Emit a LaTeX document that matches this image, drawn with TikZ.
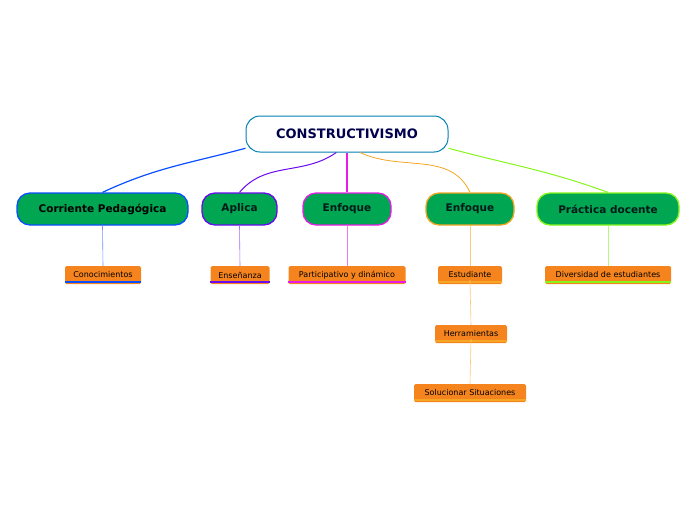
\documentclass[tikz,border=0pt]{standalone}
\usepackage{fontspec}
\setmainfont{DejaVu Sans}
\definecolor{colb}{HTML}{0A4FFF}
\definecolor{colp}{HTML}{6A0AF0}
\definecolor{colm}{HTML}{E81CE8}
\definecolor{colo}{HTML}{F5A623}
\definecolor{colg}{HTML}{85F51A}
\definecolor{gfill}{HTML}{00A651}
\definecolor{ofill}{HTML}{F5841F}
\begin{document}
\begin{tikzpicture}[x=1pt,y=-1pt,
 rootn/.style={draw=colb!40!cyan!70!black,line width=1pt,rounded corners=14pt,fill=white,minimum width=202pt,minimum height=36pt,font=\fontsize{13}{15}\selectfont\bfseries,text=blue!30!black},
 main/.style={line width=1.3pt,rounded corners=13pt,fill=gfill,minimum height=32pt,font=\fontsize{10.5}{12}\selectfont\bfseries,text=black!80!teal},
 leaf/.style={fill=ofill,rounded corners=1.5pt,minimum height=18pt,inner sep=2pt,font=\fontsize{8}{10}\selectfont},
 ul/.style={line width=1.5pt}]
\useasboundingbox (0,0) rectangle (696,520);
\node[rootn] (root) at (347,134) {CONSTRUCTIVISMO};
\node[main,draw=colb,minimum width=171pt,text=black] (n1) at (102.5,209) {Corriente Pedagógica};
\node[main,draw=colp,minimum width=75pt] (n2) at (239.5,209) {Aplica};
\node[main,draw=colm,minimum width=88pt] (n3) at (347,209) {Enfoque};
\node[main,draw=colo,minimum width=88pt] (n4) at (470,209) {Enfoque};
\node[main,draw=colg,minimum width=142pt] (n5) at (608,209) {Práctica docente};
\node[leaf,minimum width=76pt] (l1) at (103,275) {Conocimientos};
\node[leaf,minimum width=59pt] (l2) at (240,275) {Enseñanza};
\node[leaf,minimum width=117pt] (l3) at (347,275) {Participativo y dinámico};
\node[leaf,minimum width=64pt] (l4) at (470,275) {Estudiante};
\node[leaf,minimum width=72pt] (l5) at (471,334) {Herramientas};
\node[leaf,minimum width=112pt] (l6) at (470,393) {Solucionar Situaciones};
\node[leaf,minimum width=126pt] (l7) at (608,275) {Diversidad de estudiantes};
\foreach \l/\c in {l1/colb,l2/colp,l3/colm,l4/colo,l5/colo,l6/colo,l7/colg}
  \draw[ul,draw=\c] ([yshift=2pt]\l.south west) -- ([yshift=2pt]\l.south east);
\draw[colb,line width=1.2pt] (root.188) to[out=195,in=25] (n1.north);
\draw[colp,line width=1pt] (root.240) to[out=215,in=50] (n2.north);
\draw[colm,line width=1.2pt] (root.south) -- (n3.north);
\draw[colo,line width=0.8pt] (root.305) to[out=-25,in=115] (n4.north);
\draw[colg,line width=1pt] (root.352) to[out=-15,in=160] (n5.north);
\draw[colb!60,line width=0.6pt] (n1.south) -- (l1.north);
\draw[colp!60,line width=0.6pt] (n2.south) -- (l2.north);
\draw[colm!60,line width=0.6pt] (n3.south) -- (l3.north);
\draw[colo!60,line width=0.6pt] (n4.south) -- (l4.north);
\draw[colo!60,line width=0.6pt] ([yshift=4pt]l4.south) -- (l5.north);
\draw[colo!60,line width=0.6pt] ([yshift=4pt]l5.south) -- (l6.north);
\draw[colg!60,line width=0.6pt] (n5.south) -- (l7.north);
\end{tikzpicture}
\end{document}
